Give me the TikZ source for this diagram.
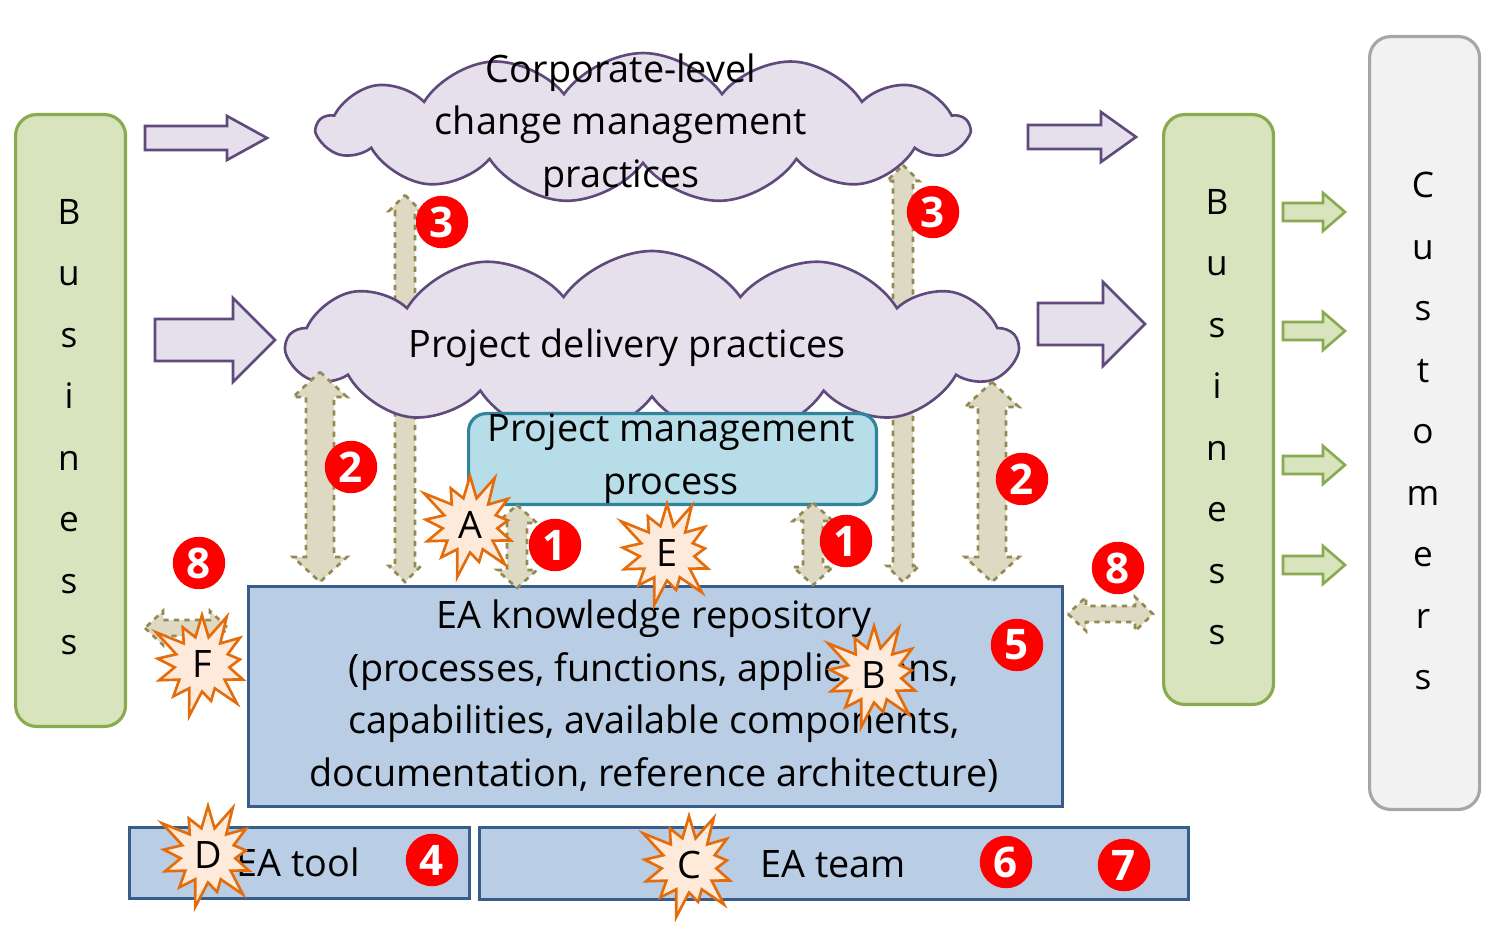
\documentclass[tikz,border=0pt]{standalone}
\usepackage{fontspec}
\setmainfont{Open Sans}
\usetikzlibrary{shapes.symbols}
\definecolor{bgreen}{HTML}{D7E4BD}
\definecolor{bgreenb}{HTML}{8AAA4F}
\definecolor{cloudf}{HTML}{E5E0EC}
\definecolor{cloudb}{HTML}{604A7B}
\definecolor{pmf}{HTML}{B7DEE8}
\definecolor{pmb}{HTML}{31849B}
\definecolor{eaf}{HTML}{B9CDE5}
\definecolor{eab}{HTML}{385D8A}
\definecolor{darf}{HTML}{DDD9C3}
\definecolor{darb}{HTML}{938953}
\definecolor{starf}{HTML}{FDEADA}
\definecolor{starb}{HTML}{E46C0A}
% horizontal block arrow: style, x1, x2, y, shaft half, head half, head length
\newcommand{\harr}[7]{\draw[#1] (#2,#4-#5) -- (#3-#7,#4-#5) -- (#3-#7,#4-#6) -- (#3,#4) -- (#3-#7,#4+#6) -- (#3-#7,#4+#5) -- (#2,#4+#5) -- cycle;}
% double block arrows, vertical and horizontal
\newcommand{\vdarr}[6]{\draw[darr] (#1,#2) -- (#1+#5,#2+#6) -- (#1+#4,#2+#6) -- (#1+#4,#3-#6) -- (#1+#5,#3-#6) -- (#1,#3) -- (#1-#5,#3-#6) -- (#1-#4,#3-#6) -- (#1-#4,#2+#6) -- (#1-#5,#2+#6) -- cycle;}
\newcommand{\hdarr}[6]{\draw[darr] (#2,#1) -- (#2+#6,#1+#5) -- (#2+#6,#1+#4) -- (#3-#6,#1+#4) -- (#3-#6,#1+#5) -- (#3,#1) -- (#3-#6,#1-#5) -- (#3-#6,#1-#4) -- (#2+#6,#1-#4) -- (#2+#6,#1-#5) -- cycle;}
\begin{document}
\begin{tikzpicture}[x=0.02cm, y=-0.02cm,
  txt/.style={font=\fontsize{21.5}{30}\selectfont, align=center},
  vtxt/.style={font=\fontsize{20}{35}\selectfont, align=center},
  bizbox/.style={draw=bgreenb, fill=bgreen, line width=1.8pt, rounded corners=12pt, anchor=north west, inner sep=0pt},
  cloudn/.style={cloud, cloud puffs=13, cloud puff arc=110, aspect=3.5, draw=cloudb, fill=cloudf, line width=1.5pt, inner sep=0pt},
  box/.style={draw=eab, fill=eaf, line width=1.8pt, anchor=north west, inner sep=0pt},
  bigarr/.style={draw=cloudb, fill=cloudf, line width=1.5pt, line join=miter},
  garr/.style={draw=bgreenb, fill=bgreen, line width=1.5pt},
  darr/.style={draw=darb, fill=darf, dashed, line width=1.5pt},
  num/.style={circle, fill=red, text=white, minimum size=1.05cm, inner sep=0pt, font=\fontsize{24}{24}\selectfont\bfseries},
  star/.style={starburst, starburst points=13, starburst point height=0.6cm, draw=starb, fill=starf, line width=1.5pt, minimum size=2.3cm, inner sep=0pt, txt}
]
\useasboundingbox (0,0) rectangle (1493,945);

% business and customers
\node[bizbox, minimum width=2.2cm, minimum height=12.24cm] (bl) at (14,113) {};
\node[vtxt] at (69,427) {B\\u\\s\\i\\n\\e\\s\\s};
\node[bizbox, minimum width=2.2cm, minimum height=11.8cm] (br) at (1162,113) {};
\node[vtxt] at (1217,417) {B\\u\\s\\i\\n\\e\\s\\s};
\node[draw=gray!70, fill=gray!10, line width=1.8pt, rounded corners=12pt, anchor=north west, minimum width=2.2cm, minimum height=15.46cm] (cu) at (1368,35) {};
\node[vtxt] at (1423,431) {C\\u\\s\\t\\o\\m\\e\\r\\s};

% long dashed arrows behind the clouds
\vdarr{405}{195}{582}{10}{16}{16}
\vdarr{903}{165}{582}{10}{16}{16}

% clouds
\node[cloudn, minimum width=13cm, minimum height=3.0cm] (corp) at (643,128) {};
\node[txt] at (621,125) {Corporate-level\\change management\\practices};
\node[cloudn, minimum width=14.6cm, minimum height=3.8cm] (proj) at (652,346) {};
\node[txt] at (627,348) {Project delivery practices};
\node[draw=pmb, fill=pmf, line width=1.8pt, rounded corners=10pt, anchor=north west, minimum width=8.16cm, minimum height=1.82cm, inner sep=0pt] (pm) at (467,412) {};
\node[txt] at (671,459) {Project management\\process};

% purple and green arrows
\harr{bigarr}{145}{267}{138}{12}{22}{40}
\harr{bigarr}{155}{275}{340}{21}{42}{42}
\harr{bigarr}{1028}{1136}{137}{12}{25}{35}
\harr{bigarr}{1038}{1145}{324}{21}{42}{42}
\foreach \y in {212, 331, 465, 565}
  {\harr{garr}{1283}{1345}{\y}{9}{19}{22}}

% EA boxes
\node[box, minimum width=16.28cm, minimum height=4.4cm] (ea) at (247,585) {};
\node[txt] at (654,696) {EA knowledge repository\\(processes, functions, applications,\\capabilities, available components,\\documentation, reference architecture)};
\node[box, minimum width=6.8cm, minimum height=1.42cm] (tool) at (128,826) {};
\node[txt] at (298,862) {EA tool};
\node[box, minimum width=14.18cm, minimum height=1.44cm] (team) at (478,826) {};
\node[txt] at (833,864) {EA team};

% other dashed arrows
\vdarr{320}{372}{582}{14}{27}{25}
\vdarr{992}{382}{582}{14}{27}{25}
\vdarr{517}{505}{588}{10}{20}{18}
\vdarr{813}{503}{585}{10}{20}{18}
\hdarr{628}{145}{228}{8}{17}{18}
\hdarr{614}{1068}{1153}{8}{17}{18}

% numbers
\foreach \x/\y/\t/\n in {442/222/3/n3a, 933/212/3/n3b, 351/467/2/n2a, 1022/479/2/n2b, 555/545/1/n1a, 846/541/1/n1b, 199/563/8/n8a, 1118/568/8/n8b, 1017/645/5/n5, 432/860/4/n4, 1006/862/6/n6, 1124/865/7/n7}
  \node[num] (\n) at (\x,\y) {\t};

% starbursts
\foreach \x/\y/\t/\n in {470/525/A/sa, 667/553/E/se, 874/675/B/sb, 202/664/F/sf, 208/855/D/sd, 689/865/C/sc}
  \node[star] (\n) at (\x,\y) {\t};
\end{tikzpicture}
\end{document}
